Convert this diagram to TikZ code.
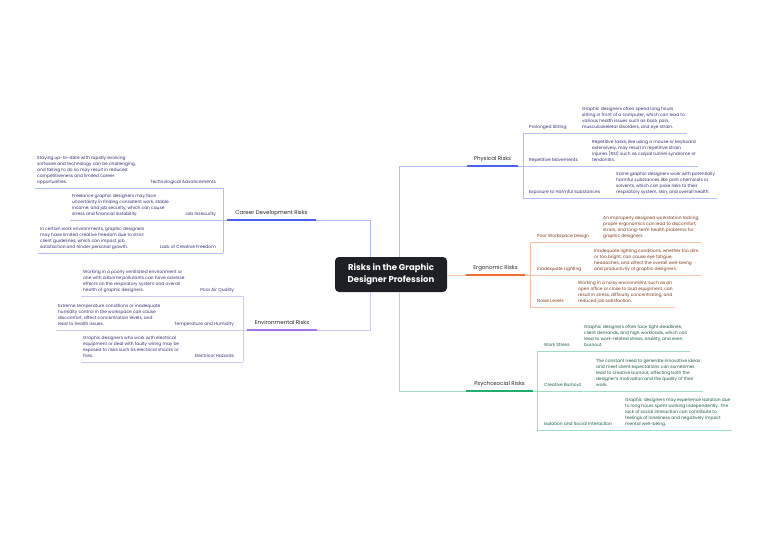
\documentclass[tikz,border=0pt]{standalone}
\usepackage{fontspec}
\setmainfont{Poppins}
\usetikzlibrary{positioning,calc}
\definecolor{rootdark}{HTML}{1E2025}
\definecolor{physblue}{HTML}{4C5FF0}
\definecolor{physthin}{HTML}{B3BBF7}
\definecolor{physink}{HTML}{2E3070}
\definecolor{ergoorange}{HTML}{F26B2F}
\definecolor{ergothin}{HTML}{F5C2A8}
\definecolor{ergoink}{HTML}{7B3B1C}
\definecolor{psygreen}{HTML}{1FAE6E}
\definecolor{psythin}{HTML}{9EE0C2}
\definecolor{psyink}{HTML}{1D5B3E}
\definecolor{envpurple}{HTML}{A277EE}
\definecolor{envthin}{HTML}{D4C6F5}
\definecolor{envink}{HTML}{3B2F70}

\begin{document}
\begin{tikzpicture}[
      x=1pt, y=-1pt,
      root/.style={rectangle, fill=rootdark, text=white, rounded corners=4pt, align=center, font=\bfseries\fontsize{8.5}{12}\selectfont, minimum width=112pt, minimum height=35pt, inner sep=2pt},
      topic/.style={anchor=south, font=\fontsize{5.5}{7}\selectfont, text=black!85, inner xsep=0pt, inner ysep=3pt, execute at end node=\strut},
      leaf/.style={font=\fontsize{4.4}{6}\selectfont, inner xsep=2pt, inner ysep=2.2pt, execute at end node=\strut},
      desc/.style={align=left, font=\fontsize{4.35}{6}\selectfont, inner xsep=2pt, inner ysep=2.2pt, execute at end node=\strut},
      under/.style={line width=1.7pt},
      twig/.style={line width=0.75pt}
    ]
      \useasboundingbox[fill=white] (0,0) rectangle (768,543);

      \node[root] (root) at (391,274.5) {Risks in the Graphic\\Designer Profession};

      % main topics
      \node[topic, minimum width=51pt] (physical) at (492.5,166) {Physical Risks};
      \node[topic, minimum width=59pt] (ergonomic) at (495.5,275) {Ergonomic Risks};
      \node[topic, minimum width=67pt] (psycho) at (499.5,391) {Psychosocial Risks};
      \node[topic, minimum width=89pt] (career) at (271.5,220) {Career Development Risks};
      \node[topic, minimum width=70pt] (environ) at (282,330) {Environmental Risks};

      \coordinate (phys-br) at (523,166);
      \coordinate (ergo-br) at (530,275);
      \coordinate (psy-br) at (537,391);
      \coordinate (car-br) at (223,220);
      \coordinate (env-br) at (243,330);

      % physical
      \node[leaf, anchor=south west, text=physink] (sit-lbl) at (527,133) {Prolonged Sitting};
      \node[desc, anchor=south west, text=physink] (sit-txt) at (580,133) {Graphic designers often spend long hours\\sitting in front of a computer, which can lead to\\various health issues such as back pain,\\musculoskeletal disorders, and eye strain.};
      \node[leaf, anchor=south west, text=physink] (rep-lbl) at (527,166) {Repetitive Movements};
      \node[desc, anchor=south west, text=physink] (rep-txt) at (590,166) {Repetitive tasks, like using a mouse or keyboard\\extensively, may result in repetitive strain\\injuries (RSI) such as carpal tunnel syndrome or\\tendonitis.};
      \node[leaf, anchor=south west, text=physink] (exp-lbl) at (527,198) {Exposure to Harmful Substances};
      \node[desc, anchor=south west, text=physink] (exp-txt) at (614,198) {Some graphic designers work with potentially\\harmful substances like print chemicals or\\solvents, which can pose risks to their\\respiratory system, skin, and overall health.};

      % ergonomic
      \node[leaf, anchor=south west, text=ergoink] (pwd-lbl) at (535,242) {Poor Workspace Design};
      \node[desc, anchor=south west, text=ergoink] (pwd-txt) at (601,242) {An improperly designed workstation lacking\\proper ergonomics can lead to discomfort,\\strain, and long-term health problems for\\graphic designers.};
      \node[leaf, anchor=south west, text=ergoink] (lig-lbl) at (535,275) {Inadequate Lighting};
      \node[desc, anchor=south west, text=ergoink] (lig-txt) at (592,275) {Inadequate lighting conditions, whether too dim\\or too bright, can cause eye fatigue,\\headaches, and affect the overall well-being\\and productivity of graphic designers.};
      \node[leaf, anchor=south west, text=ergoink] (noi-lbl) at (535,307) {Noise Levels};
      \node[desc, anchor=south west, text=ergoink] (noi-txt) at (576,307) {Working in a noisy environment, such as an\\open office or close to loud equipment, can\\result in stress, difficulty concentrating, and\\reduced job satisfaction.};

      % psychosocial
      \node[leaf, anchor=south west, text=psyink] (wst-lbl) at (542,351) {Work Stress};
      \node[desc, anchor=south west, text=psyink] (wst-txt) at (582,351) {Graphic designers often face tight deadlines,\\client demands, and high workloads, which can\\lead to work-related stress, anxiety, and even\\burnout.};
      \node[leaf, anchor=south west, text=psyink] (cbo-lbl) at (542,391) {Creative Burnout};
      \node[desc, anchor=south west, text=psyink] (cbo-txt) at (594,391) {The constant need to generate innovative ideas\\and meet client expectations can sometimes\\lead to creative burnout, affecting both the\\designer's motivation and the quality of their\\work.};
      \node[leaf, anchor=south west, text=psyink] (iso-lbl) at (542,430) {Isolation and Social Interaction};
      \node[desc, anchor=south west, text=psyink] (iso-txt) at (623,430) {Graphic designers may experience isolation due\\to long hours spent working independently. The\\lack of social interaction can contribute to\\feelings of loneliness and negatively impact\\mental well-being.};

      % career
      \node[desc, anchor=south west, text=physink] (tec-txt) at (35,188) {Staying up-to-date with rapidly evolving\\software and technology can be challenging,\\and failing to do so may result in reduced\\competitiveness and limited career\\opportunities.};
      \node[leaf, anchor=south east, text=physink] (tec-lbl) at (218,188) {Technological Advancements};
      \node[desc, anchor=south west, text=physink] (job-txt) at (70,220) {Freelance graphic designers may face\\uncertainty in finding consistent work, stable\\income, and job security, which can cause\\stress and financial instability.};
      \node[leaf, anchor=south east, text=physink] (job-lbl) at (218,220) {Job Insecurity};
      \node[desc, anchor=south west, text=physink] (lcf-txt) at (38,253) {In certain work environments, graphic designers\\may have limited creative freedom due to strict\\client guidelines, which can impact job\\satisfaction and hinder personal growth.};
      \node[leaf, anchor=south east, text=physink] (lcf-lbl) at (218,253) {Lack of Creative Freedom};

      % environmental
      \node[desc, anchor=south west, text=envink] (air-txt) at (81,296) {Working in a poorly ventilated environment or\\one with airborne pollutants can have adverse\\effects on the respiratory system and overall\\health of graphic designers.};
      \node[leaf, anchor=south east, text=envink] (air-lbl) at (236,296) {Poor Air Quality};
      \node[desc, anchor=south west, text=envink] (tmp-txt) at (56,330) {Extreme temperature conditions or inadequate\\humidity control in the workspace can cause\\discomfort, affect concentration levels, and\\lead to health issues.};
      \node[leaf, anchor=south east, text=envink] (tmp-lbl) at (236,330) {Temperature and Humidity};
      \node[desc, anchor=south west, text=envink] (ele-txt) at (81,362) {Graphic designers who work with electrical\\equipment or deal with faulty wiring may be\\exposed to risks such as electrical shocks or\\fires.};
      \node[leaf, anchor=south east, text=envink] (ele-lbl) at (236,362) {Electrical Hazards};

      % connectors from the root
      \draw[twig, physthin] ([xshift=8pt]root.north) |- (physical.south west);
      \draw[twig, ergothin] (root.east |- ergonomic.south) -- (ergonomic.south west);
      \draw[twig, psythin] ([xshift=8pt]root.south) |- (psycho.south west);
      \draw[twig, physthin] ([xshift=-21pt]root.north) |- (career.south east);
      \draw[twig, envthin] ([xshift=-21pt]root.south) |- (environ.south east);

      % underlines
      \draw[under, physblue] (physical.south west) -- (physical.south east);
      \draw[under, ergoorange] (ergonomic.south west) -- (ergonomic.south east);
      \draw[under, psygreen] (psycho.south west) -- (psycho.south east);
      \draw[under, physblue] (career.south west) -- (career.south east);
      \draw[under, envpurple] (environ.south west) -- (environ.south east);

      % branches
      \draw[twig, physthin] (physical.south east) -- (phys-br);
      \draw[twig, physthin] (phys-br |- sit-lbl.south) -- (phys-br |- exp-lbl.south);
      \draw[twig, physthin] (phys-br |- sit-lbl.south) -- (sit-txt.south east);
      \draw[twig, physthin] (phys-br |- rep-lbl.south) -- (rep-txt.south east);
      \draw[twig, physthin] (phys-br |- exp-lbl.south) -- (exp-txt.south east);

      \draw[twig, ergothin] (ergonomic.south east) -- (ergo-br);
      \draw[twig, ergothin] (ergo-br |- pwd-lbl.south) -- (ergo-br |- noi-lbl.south);
      \draw[twig, ergothin] (ergo-br |- pwd-lbl.south) -- (pwd-txt.south east);
      \draw[twig, ergothin] (ergo-br |- lig-lbl.south) -- (lig-txt.south east);
      \draw[twig, ergothin] (ergo-br |- noi-lbl.south) -- (noi-txt.south east);

      \draw[twig, psythin] (psycho.south east) -- (psy-br);
      \draw[twig, psythin] (psy-br |- wst-lbl.south) -- (psy-br |- iso-lbl.south);
      \draw[twig, psythin] (psy-br |- wst-lbl.south) -- (wst-txt.south east);
      \draw[twig, psythin] (psy-br |- cbo-lbl.south) -- (cbo-txt.south east);
      \draw[twig, psythin] (psy-br |- iso-lbl.south) -- (iso-txt.south east);

      \draw[twig, physthin] (career.south west) -- (car-br);
      \draw[twig, physthin] (car-br |- tec-lbl.south) -- (car-br |- lcf-lbl.south);
      \draw[twig, physthin] (car-br |- tec-lbl.south) -- (tec-txt.south west);
      \draw[twig, physthin] (car-br |- job-lbl.south) -- (job-txt.south west);
      \draw[twig, physthin] (car-br |- lcf-lbl.south) -- (lcf-txt.south west);

      \draw[twig, envthin] (environ.south west) -- (env-br);
      \draw[twig, envthin] (env-br |- air-lbl.south) -- (env-br |- ele-lbl.south);
      \draw[twig, envthin] (env-br |- air-lbl.south) -- (air-txt.south west);
      \draw[twig, envthin] (env-br |- tmp-lbl.south) -- (tmp-txt.south west);
      \draw[twig, envthin] (env-br |- ele-lbl.south) -- (ele-txt.south west);
    \end{tikzpicture}
\end{document}
